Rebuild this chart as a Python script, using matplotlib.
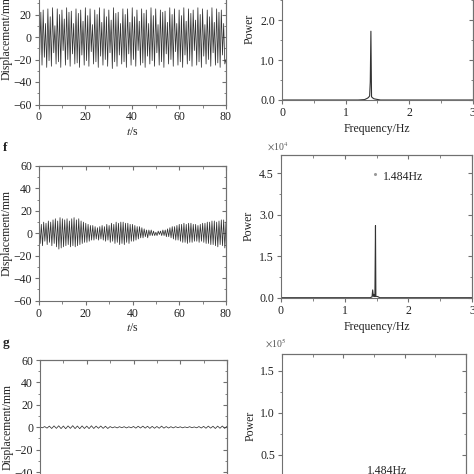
import numpy as np
import matplotlib.pyplot as plt
from matplotlib.ticker import MultipleLocator, FormatStrFormatter

plt.rcParams['font.family'] = ['Liberation Serif', 'DejaVu Serif']
plt.rcParams['mathtext.fontset'] = 'stix'
plt.rcParams['font.size'] = 8.5

# displacement records (peak / trough values), one every dt seconds
dt_ef = 0.5
e_disp = [
    8, -16, 22, -25, 24, -18, 12, -27, 25, -21,
    18, -26, 26, -14, 10, -24, 25, -22, 20, -27,
    24, -12, 16, -25, 26, -20, 22, -26, 23, -15,
    12, -24, 25, -23, 21, -27, 24, -16, 14, -25,
    26, -21, 19, -26, 25, -13, 11, -24, 24, -22,
    20, -27, 26, -17, 13, -25, 25, -20, 18, -26,
    24, -14, 15, -28, 26, -22, 21, -26, 22, -16,
    12, -24, 25, -22, 20, -27, 25, -15, 13, -25,
    26, -20, 18, -26, 24, -12, 14, -25, 25, -23,
    21, -27, 24, -17, 12, -24, 26, -21, 19, -26,
    25, -14, 11, -25, 24, -22, 22, -27, 23, -15,
    13, -24, 26, -20, 20, -26, 25, -13, 12, -25,
    24, -22, 19, -27, 26, -16, 14, -24, 25, -21,
    21, -26, 24, -12, 15, -25, 26, -22, 20, -27,
    25, -17, 11, -24, 24, -20, 18, -26, 26, -14,
    13, -25, 25, -23, 22, -27, 24, -16, 12, -24,
    -20]
f_disp = [
    10, -9, 8, -11, 10, -7, 9, -10, 11, -8,
    10, -11, 12, -9, 13, -12, 11, -14, 14, -13,
    13, -12, 12, -11, 13, -10, 11, -12, 13, -11,
    14, -12, 12, -11, 13, -10, 11, -9, 10, -8,
    9, -8, 8, -7, 7, -6, 7, -6, 6, -5,
    5, -6, 6, -5, 7, -6, 6, -7, 8, -6,
    7, -8, 9, -7, 8, -9, 10, -8, 9, -10,
    10, -9, 10, -10, 9, -8, 9, -9, 8, -7,
    8, -7, 7, -6, 6, -5, 6, -4, 5, -4,
    4, -3, 3, -4, 3, -2, 3, -2, 2, -2,
    1, -2, 2, -1, 2, -2, 3, -2, 3, -3,
    4, -3, 5, -4, 6, -5, 6, -6, 7, -6,
    8, -7, 8, -8, 9, -8, 8, -9, 9, -8,
    9, -8, 8, -7, 8, -7, 7, -8, 8, -7,
    9, -8, 9, -9, 10, -9, 10, -10, 11, -10,
    11, -11, 10, -12, 11, -10, 12, -11, 12, -13,
    10]
dt_g = 1.0
g_disp = [
    0.3, -0.5, 0.6, -0.8, 1.0, -1.1, 1.2, -1.0, 1.3, -1.2,
    1.1, -1.3, 1.2, -1.0, 1.4, -1.2, 1.1, -1.3, 1.2, -1.1,
    1.0, -1.2, 1.3, -1.1, 1.0, -0.9, 1.1, -1.0, 0.9, -1.1,
    0.6, -0.5, 0.4, -0.6, 0.5, -0.4, 0.5, -0.6, 0.4, -0.5,
    0.7, -0.8, 0.9, -0.7, 1.0, -0.8, 0.9, -1.0, 0.8, -0.9,
    0.7, -0.9, 1.0, -0.8, 0.6, -0.7, 0.5, -0.6, 0.5, -0.4,
    0.4, -0.5, 0.3, -0.4, 0.5, -0.4, 0.3, -0.5, 0.6, -0.7,
    0.8, -0.9, 1.0, -0.8, 0.9, -1.1, 1.0, -0.9, 1.1, -1.0,
    0.8]

# power spectra
e_freq = [0, 1.20, 1.30, 1.34, 1.36, 1.38, 1.39, 1.40, 1.41, 1.43, 1.45, 1.48, 1.55, 3.0]
e_power = [0, 0, 0.01, 0.04, 0.06, 0.10, 0.45, 1.72, 0.08, 0.05, 0.03, 0.02, 0, 0]
f_freq = [0, 0.005, 0.01, 1.40, 1.43, 1.44, 1.45, 1.46, 1.475, 1.484, 1.49, 1.52, 1.55, 3.0]
f_power = [1.35, 0.05, 0, 0, 0.03, 0.28, 0.05, 0.12, 0.04, 2.6, 0.05, 0.04, 0, 0]
g_freq = [0, 0.005, 0.01, 1.40, 1.484, 1.50, 3.0]
g_power = [0.44, 0.03, 0, 0, 0.02, 0, 0]

W = 474.0
def px_axes(fig, l, r, t, b):
    return fig.add_axes([l / W, 1 - b / W, (r - l) / W, (b - t) / W])

SP = '#707070'
TX = '#222222'
LC = '#333333'

def style(ax, xmaj, xmin, ymaj, ymin):
    for s in ax.spines.values():
        s.set_color(SP)
        s.set_linewidth(0.8)
    ax.xaxis.set_major_locator(MultipleLocator(xmaj))
    ax.xaxis.set_minor_locator(MultipleLocator(xmin))
    ax.yaxis.set_major_locator(MultipleLocator(ymaj))
    ax.yaxis.set_minor_locator(MultipleLocator(ymin))
    ax.tick_params(which='both', direction='out', colors=SP, labelcolor=TX, pad=2)
    ax.tick_params(which='major', length=3)
    ax.tick_params(which='minor', length=1.8)
    sx = ax.secondary_xaxis('top')
    sx.xaxis.set_major_locator(MultipleLocator(xmaj))
    sx.xaxis.set_minor_locator(MultipleLocator(xmin))
    sx.tick_params(which='both', direction='in', labeltop=False, colors=SP)
    sx.tick_params(which='major', length=3)
    sx.tick_params(which='minor', length=1.8)
    sx.spines['top'].set_color(SP)
    sy = ax.secondary_yaxis('right')
    sy.yaxis.set_major_locator(MultipleLocator(ymaj))
    sy.yaxis.set_minor_locator(MultipleLocator(ymin))
    sy.tick_params(which='both', direction='in', labelright=False, colors=SP)
    sy.tick_params(which='major', length=3)
    sy.tick_params(which='minor', length=1.8)
    sy.spines['right'].set_color(SP)

fig = plt.figure(figsize=(4.74, 4.74), dpi=100)

# left column: displacement time histories
left_boxes = [(38.5, 226, -30.5, 104.5), (39, 226, 166, 300.7), (40, 227, 360, 494.5)]
disp_sets = [(e_disp, dt_ef), (f_disp, dt_ef), (g_disp, dt_g)]
for box, (vals, dt) in zip(left_boxes, disp_sets):
    ax = px_axes(fig, *box)
    t = np.arange(len(vals)) * dt
    ax.plot(t, vals, color=LC, lw=0.55)
    ax.set_xlim(0, 80)
    ax.set_ylim(-60, 60)
    style(ax, 20, 10, 20, 10)
    ax.set_ylabel('Displacement/mm', color=TX)
    ax.yaxis.set_label_coords(-0.14, 0.5)
    ax.set_xlabel(r'$\mathit{t}$/s', color=TX, labelpad=2)

# right column: power spectra
right_boxes = [(282, 472.5, -42.7, 100), (281, 472, 155, 297.7), (282, 466, 354, 497)]
spec_sets = [(e_freq, e_power, 3.57, 1.0, 0.5), (f_freq, f_power, 5.15, 1.5, 0.75),
             (g_freq, g_power, 1.70, 0.5, 0.25)]
spec_axes = []
for box, (fr, pw, top, ymaj, ymin) in zip(right_boxes, spec_sets):
    ax = px_axes(fig, *box)
    ax.plot(fr, pw, color=LC, lw=0.8)
    ax.set_xlim(0, 3)
    ax.set_ylim(0, top)
    style(ax, 1, 0.5, ymaj, ymin)
    ax.yaxis.set_major_formatter(FormatStrFormatter('%.1f'))
    ax.set_ylabel('Power', color=TX)
    ax.yaxis.set_label_coords(-0.14, 0.5)
    ax.set_xlabel('Frequency/Hz', color=TX, labelpad=3)
    spec_axes.append(ax)

spec_axes[1].plot([1.484], [4.45], 'o', ms=1.2, color='#999999')
spec_axes[1].text(1.60, 4.36, '1.484Hz', color=TX, va='center', ha='left')
spec_axes[2].text(1.38, 0.38, '1.484Hz', color=TX, va='top', ha='left')

fig.text(267 / W, 1 - 147 / W, r'$\times$10$^{4}$', color='#555555', fontsize=7, va='center')
fig.text(265 / W, 1 - 343 / W, r'$\times$10$^{5}$', color='#555555', fontsize=7, va='center')

fig.text(3 / W, 1 - 148 / W, 'f', fontsize=9.5, fontweight='bold', color=TX, va='center')
fig.text(3 / W, 1 - 343 / W, 'g', fontsize=9.5, fontweight='bold', color=TX, va='center')

fig.savefig('out.png', dpi=100)
